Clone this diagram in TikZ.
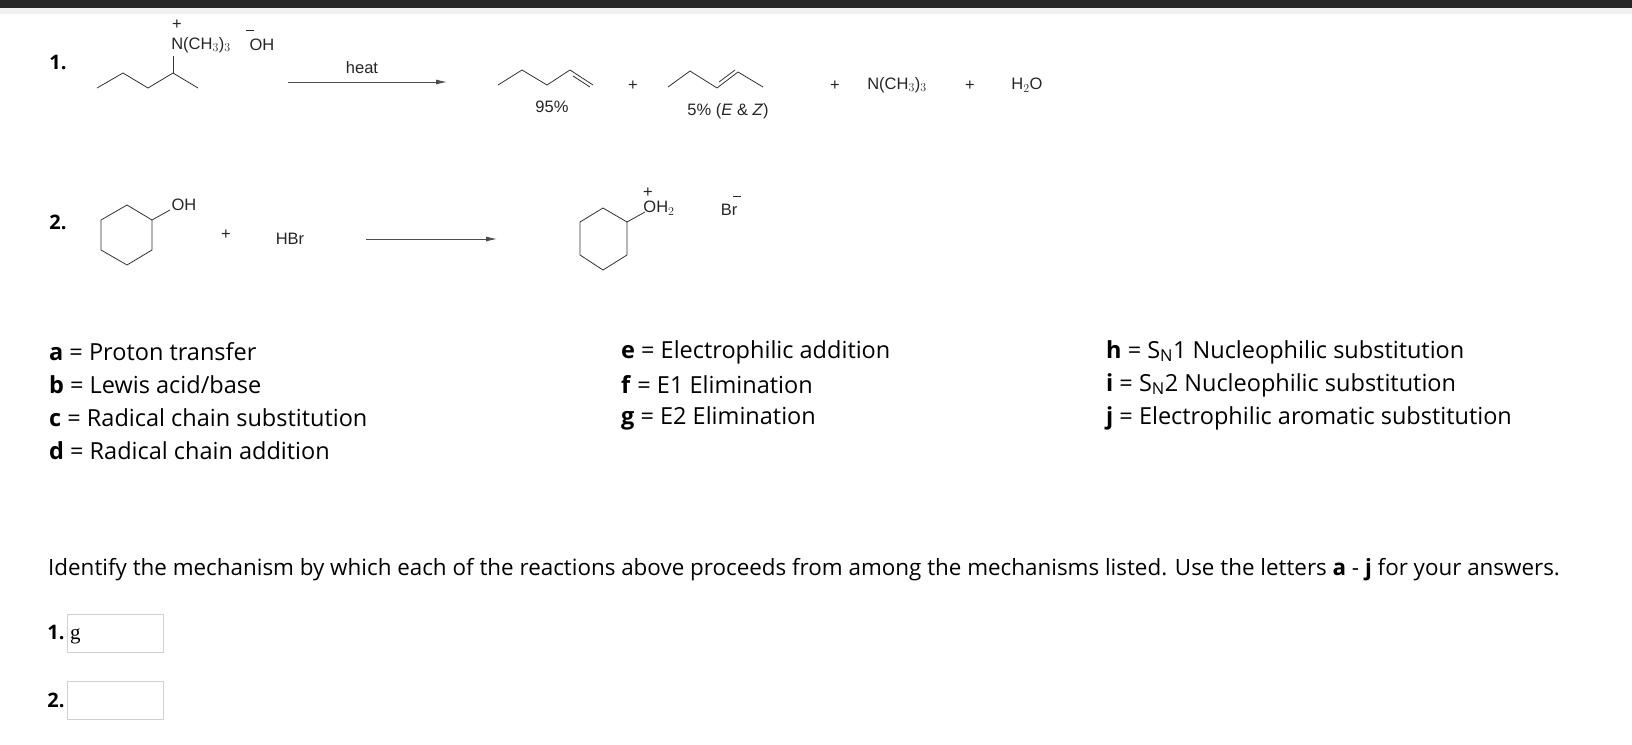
\documentclass[tikz,border=0pt]{standalone}
\usepackage{fontspec}
\setmainfont{Open Sans}
\newfontfamily\chemf{Liberation Sans}
\usetikzlibrary{arrows.meta}
\begin{document}
\begin{tikzpicture}[x=1pt,y=-1pt,
  bond/.style={line width=0.8pt,draw=black!80},
  rarrow/.style={line width=0.9pt,draw=black!70,-{Latex[length=11pt,width=5pt]}},
  chem/.style={font=\chemf\fontsize{16.5}{19}\selectfont,inner sep=0pt,text=black!85},
  lab/.style={font=\fontsize{23.5}{27}\selectfont,anchor=west,inner sep=0pt},
  qlab/.style={font=\fontsize{22.4}{27}\selectfont,anchor=west,inner sep=0pt},
  num/.style={font=\bfseries\fontsize{20}{24}\selectfont,inner sep=0pt},
  abox/.style={draw=black!18,line width=1pt}]
\useasboundingbox[fill=white] (0,0) rectangle (1632,744);
\fill[black!85] (0,0) rectangle (1632,8);
\fill[black!6] (0,8) rectangle (1632,14);
% reaction 1
\node[num] (n1) at (58,62) {1.};
\draw[bond] (97,88)--(123,73)--(148,88)--(173,73)--(198,88);
\draw[bond] (173,73)--(173,56);
\node[chem] (nme) at (201,45) {N(CH$_3$)$_3$};
\node[chem] (np) at (177,25) {+};
\node[chem] (oh1) at (262,45) {OH};
\node[chem] (om) at (250,30) {\rule{8pt}{0.8pt}};
\coordinate (a1s) at (288,82); \coordinate (a1e) at (447,82);
\draw[rarrow] (a1s)--(a1e);
\node[chem] (heat) at (362,68) {heat};
\draw[bond] (498,85)--(522,70)--(547,85)--(570,70)--(593,85);
\draw[bond] (573,76)--(590,87);
\node[chem] (p95) at (552,107) {95\%};
\node[chem] (pl1) at (633,86) {+};
\draw[bond] (668,87)--(690,71)--(717,88)--(738,72)--(763,87);
\draw[bond] (719,82)--(735,70);
\node[chem] (p5) at (728,111) {5\% (\textit{E} \& \textit{Z})};
\node[chem] (pl2) at (800+35,86) {+};
\node[chem] (nme2) at (897,85) {N(CH$_3$)$_3$};
\node[chem] (pl3) at (970,86) {+};
\node[chem] (h2o) at (1027,85) {H$_2$O};
% reaction 2
\node[num] (n2) at (58,222) {2.};
\draw[bond] (101,220)--(127,205)--(152,220)--(152,250)--(127,265)--(101,250)--cycle;
\draw[bond] (152,220)--(170,210);
\node[chem] (oh2) at (184,205) {OH};
\node[chem] (pl4) at (226,235) {+};
\node[chem] (hbr) at (290,239) {HBr};
\coordinate (a2s) at (366,239); \coordinate (a2e) at (497,239);
\draw[rarrow] (a2s)--(a2e);
\draw[bond] (580,222)--(603,208)--(627,222)--(627,255)--(603,270)--(580,255)--cycle;
\draw[bond] (627,222)--(645,212);
\node[chem] (oh3) at (659,208) {OH$_2$};
\node[chem] (op) at (648,193) {+};
\node[chem] (br) at (729,210) {Br};
\node[chem] (brm) at (737,196) {\rule{8pt}{0.8pt}};
% mechanism list
\node[lab] (la) at (49,352) {\textbf{a} = Proton transfer};
\node[lab] (lb) at (49,385) {\textbf{b} = Lewis acid/base};
\node[lab] (lc) at (49,418) {\textbf{c} = Radical chain substitution};
\node[lab] (ld) at (49,451) {\textbf{d} = Radical chain addition};
\node[lab] (le) at (621,352) {\textbf{e} = Electrophilic addition};
\node[lab] (lf) at (621,385) {\textbf{f} = E1 Elimination};
\node[lab] (lg) at (621,418) {\textbf{g} = E2 Elimination};
\node[lab] (lh) at (1106,352) {\textbf{h} = S$_{\mathrm{N}}$1 Nucleophilic substitution};
\node[lab] (li) at (1106,385) {\textbf{i} = S$_{\mathrm{N}}$2 Nucleophilic substitution};
\node[lab] (lj) at (1106,418) {\textbf{j} = Electrophilic aromatic substitution};
\node[qlab] (q) at (48,570) {Identify the mechanism by which each of the reactions above proceeds from among the mechanisms listed. Use the letters \textbf{a} - \textbf{j} for your answers.};
% answers
\node[num] (an1) at (56,632) {1.};
\draw[abox] (67,614) rectangle (163,652);
\node[font=\fontspec{Liberation Serif}\fontsize{21}{25}\selectfont,anchor=west,inner sep=0pt] (g) at (70,636) {g};
\node[num] (an2) at (56,700) {2.};
\draw[abox] (67,681) rectangle (163,719);
\end{tikzpicture}
\end{document}
